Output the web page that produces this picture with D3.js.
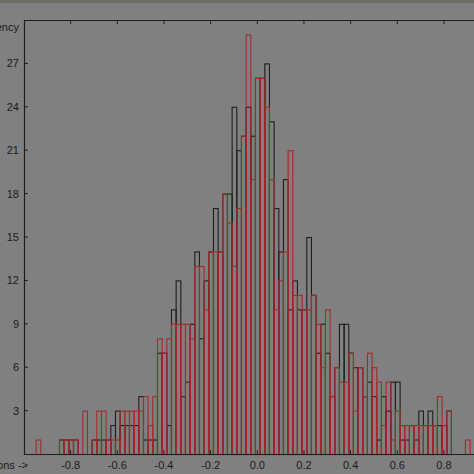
<!DOCTYPE html>
<html><head><meta charset="utf-8">
<script src="https://cdn.jsdelivr.net/npm/d3@7"></script>
<style>body{margin:0;background:#808080}svg{display:block}</style>
</head><body>
<svg id="c" width="474" height="474"></svg>
<script>
const binStart = -0.95, binWidth = 0.02;
const redCounts = [1,0,0,0,0,1,1,1,1,0,3,0,1,3,3,1,1,1,3,3,3,3,3,4,2,4,8,7,8,9,9,9,9,8,13,13,10,14,14,14,18,16,13,17,22,29,19,26,26,24,19,10,12,14,21,11,11,10,10,11,9,6,10,4,6,5,5,7,3,6,4,7,6,5,2,5,1,3,2,2,2,2,2,2,2,2,4,2,3,0,0,0,1];
const blackCounts = [0,0,0,0,0,1,1,1,1,0,0,0,1,1,1,1,2,3,2,2,2,2,4,1,1,1,7,7,2,10,12,4,5,9,14,8,12,14,17,14,18,18,24,21,22,24,22,26,26,27,23,17,14,19,10,12,10,10,15,11,7,9,7,4,6,9,9,7,6,6,4,5,4,1,4,3,5,5,1,1,2,1,3,2,3,2,2,2,3,0,0,0,0];
const xTicks = [-0.8,-0.6,-0.4,-0.2,0,0.2,0.4,0.6,0.8];
const yTicks = [3,6,9,12,15,18,21,24,27];

const svg = d3.select("#c");
svg.append("rect").attr("x",0).attr("y",0).attr("width",474).attr("height",474).attr("fill","#808080");
svg.append("rect").attr("x",0).attr("y",0).attr("width",474).attr("height",3).attr("fill","#6e6e62");
const x = d3.scaleLinear().domain([-1,1]).range([24,490.6]);
const y = d3.scaleLinear().domain([0,30]).range([454,20]);

function draw(counts, color){
  svg.append("g").selectAll("rect").data(counts.map((c,i)=>({c,i})).filter(d=>d.c>0)).join("rect")
    .attr("x",d=>x(binStart+d.i*binWidth)+0.5)
    .attr("width",d=>x(binStart+(d.i+1)*binWidth)-x(binStart+d.i*binWidth))
    .attr("y",d=>y(d.c)+0.5).attr("height",d=>y(0)-y(d.c))
    .attr("fill","none").attr("stroke",color).attr("stroke-width",1.1);
}
draw(blackCounts,"#1e1e1e");
draw(redCounts,"#a52a2a");

// frame
svg.append("path").attr("d",`M24.5,454.5V20.5H474`).attr("fill","none").attr("stroke","#1e1e1e").attr("stroke-width",1.2);
svg.append("path").attr("d",`M24,454.5H474`).attr("fill","none").attr("stroke","#1e1e1e").attr("stroke-width",1.2);
// ticks
const tk = svg.append("g").attr("stroke","#1e1e1e");
xTicks.forEach(t=>{
  tk.append("line").attr("x1",x(t)).attr("x2",x(t)).attr("y1",20).attr("y2",24);
  tk.append("line").attr("x1",x(t)).attr("x2",x(t)).attr("y1",454).attr("y2",450);
});
yTicks.forEach(t=>{
  tk.append("line").attr("x1",24).attr("x2",28).attr("y1",y(t)).attr("y2",y(t));
});
const f = "Arial, Liberation Sans, sans-serif";
svg.append("g").selectAll("text").data(xTicks).join("text")
  .attr("x",d=>x(d)).attr("y",469).attr("text-anchor","middle")
  .attr("font-family",f).attr("font-size",11).attr("fill","#1a1a1a")
  .text(d=>d3.format(".1f")(d).replace("−","-"));
svg.append("g").selectAll("text").data(yTicks).join("text")
  .attr("x",19).attr("y",d=>y(d)+4).attr("text-anchor","end")
  .attr("font-family",f).attr("font-size",11).attr("fill","#1a1a1a").text(d=>d);
svg.append("text").attr("x",19).attr("y",31).attr("text-anchor","end")
  .attr("font-family",f).attr("font-size",11).attr("fill","#1a1a1a").text("Frequency");
svg.append("text").attr("x",28).attr("y",469).attr("text-anchor","end")
  .attr("font-family",f).attr("font-size",11).attr("fill","#1a1a1a").text("Deviations ->");
</script></body></html>
